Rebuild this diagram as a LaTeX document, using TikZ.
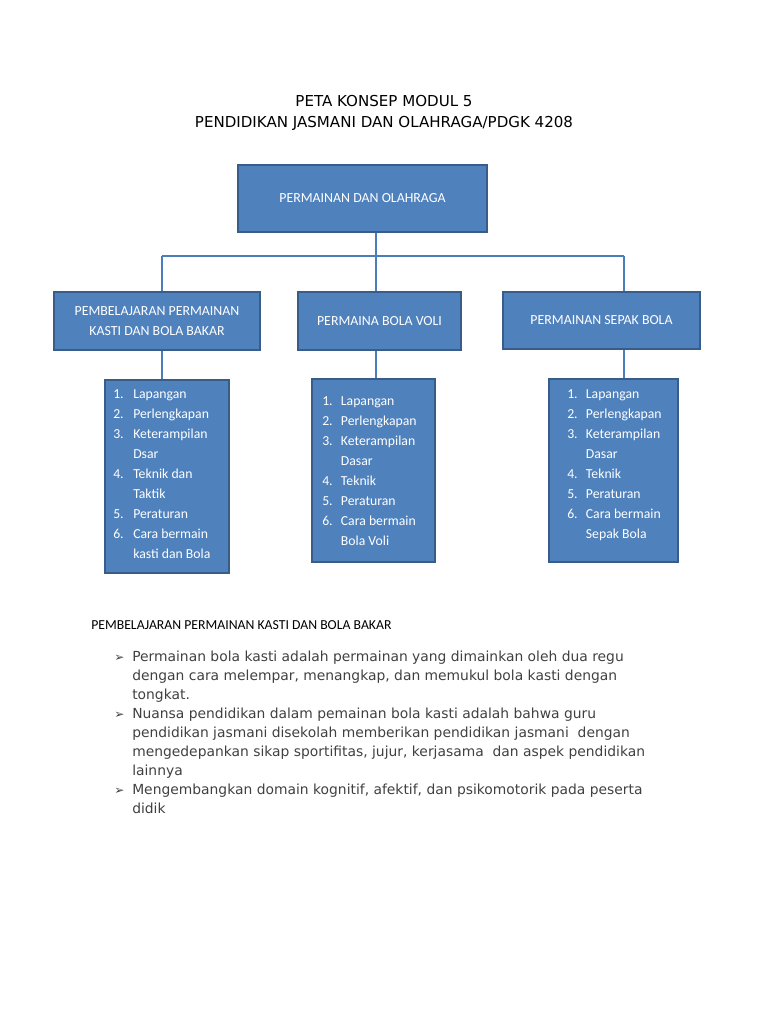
\documentclass[tikz,border=0pt]{standalone}
\usepackage{fontspec}
\setmainfont{DejaVu Sans}
\newfontfamily\carl{Carlito}
\newfontfamily\dejavu{DejaVu Sans}
\definecolor{boxfill}{HTML}{4F81BD}
\definecolor{boxedge}{HTML}{385D8A}
\definecolor{linec}{HTML}{4A7EBB}
\definecolor{bodyc}{HTML}{404040}
\tikzset{
  bluebox/.style={draw=boxedge, fill=boxfill, line width=1.5pt, text=white, inner sep=0pt, align=center,
    font=\carl\fontsize{10.4}{15}\selectfont},
  conn/.style={draw=linec, line width=1.2pt},
  listtxt/.style={text=white, inner sep=0pt, align=left, anchor=north west, font=\carl\fontsize{10.3}{15}\selectfont},
  bodytxt/.style={text=bodyc, inner sep=0pt, align=left, anchor=north west, font=\dejavu\fontsize{10.4}{14.25}\selectfont},
  bul/.style={},
}
\newcommand{\blt}{\makebox[13.5pt][l]{\raisebox{0.3pt}{\fontsize{9}{10}\selectfont ➢}}}
\begin{document}
\begin{tikzpicture}[x=0.75pt,y=-0.75pt]
\useasboundingbox (0,0) rectangle (768,1024);
% title
\node[inner sep=0pt, align=center, font=\dejavu\fontsize{11.3}{15.75}\selectfont] (title) at (384,113)
  {PETA KONSEP MODUL 5\\PENDIDIKAN JASMANI DAN OLAHRAGA/PDGK 4208};
% boxes
\node[bluebox, minimum width=186.75pt, minimum height=50.25pt] (top) at (362.5,198.5) {PERMAINAN DAN OLAHRAGA};
\node[bluebox, minimum width=154.5pt, minimum height=43.5pt] (kasti) at (157,321) {PEMBELAJARAN PERMAINAN\\KASTI DAN BOLA BAKAR};
\node[bluebox, minimum width=122.25pt, minimum height=43.5pt] (voli) at (379.5,321) {PERMAINA BOLA VOLI};
\node[bluebox, minimum width=147.75pt, minimum height=42.75pt] (sepak) at (601.5,320.5) {PERMAINAN SEPAK BOLA};
\node[bluebox, minimum width=93pt, minimum height=144.75pt] (lkasti) at (167,476.5) {};
\node[bluebox, minimum width=92.25pt, minimum height=137.25pt] (lvoli) at (373.5,470.5) {};
\node[bluebox, minimum width=96.75pt, minimum height=137.25pt] (lsepak) at (613.5,470.5) {};
% connectors
\coordinate (busL) at (162,256);
\coordinate (busM) at (376,256);
\coordinate (busR) at (624,256);
\draw[conn] (top.south -| busM) -- (busM);
\draw[conn] (busL) -- (busR);
\draw[conn] (busL) -- (busL |- kasti.north);
\draw[conn] (busM) -- (busM |- voli.north);
\draw[conn] (busR) -- (busR |- sepak.north);
\draw[conn] (kasti.south -| busL) -- (busL |- lkasti.north);
\draw[conn] (voli.south -| busM) -- (busM |- lvoli.north);
\draw[conn] (sepak.south -| busR) -- (busR |- lsepak.north);
% list texts
\node[listtxt] (tkasti) at (113,389) {\makebox[15pt][l]{1.}Lapangan\\\makebox[15pt][l]{2.}Perlengkapan\\\makebox[15pt][l]{3.}Keterampilan\\\hspace*{15pt}Dsar\\\makebox[15pt][l]{4.}Teknik dan\\\hspace*{15pt}Taktik\\\makebox[15pt][l]{5.}Peraturan\\\makebox[15pt][l]{6.}Cara bermain\\\hspace*{15pt}kasti dan Bola};
\node[listtxt] (tvoli) at (322,396) {\makebox[14pt][l]{1.}Lapangan\\\makebox[14pt][l]{2.}Perlengkapan\\\makebox[14pt][l]{3.}Keterampilan\\\hspace*{14pt}Dasar\\\makebox[14pt][l]{4.}Teknik\\\makebox[14pt][l]{5.}Peraturan\\\makebox[14pt][l]{6.}Cara bermain\\\hspace*{14pt}Bola Voli};
\node[listtxt] (tsepak) at (567,389) {\makebox[14pt][l]{1.}Lapangan\\\makebox[14pt][l]{2.}Perlengkapan\\\makebox[14pt][l]{3.}Keterampilan\\\hspace*{14pt}Dasar\\\makebox[14pt][l]{4.}Teknik\\\makebox[14pt][l]{5.}Peraturan\\\makebox[14pt][l]{6.}Cara bermain\\\hspace*{14pt}Sepak Bola};
% lower text
\node[inner sep=0pt, anchor=west, font=\carl\fontsize{10.3}{12}\selectfont] (head) at (91,625) {PEMBELAJARAN PERMAINAN KASTI DAN BOLA BAKAR};
\node[bodytxt] (body) at (114,651) {%
\blt Permainan bola kasti adalah permainan yang dimainkan oleh dua regu\\
\hspace*{13.5pt}dengan cara melempar, menangkap, dan memukul bola kasti dengan\\
\hspace*{13.5pt}tongkat.\\
\blt Nuansa pendidikan dalam pemainan bola kasti adalah bahwa guru\\
\hspace*{13.5pt}pendidikan jasmani disekolah memberikan pendidikan jasmani\ \ dengan\\
\hspace*{13.5pt}mengedepankan sikap sportifitas, jujur, kerjasama\ \ dan aspek pendidikan\\
\hspace*{13.5pt}lainnya\\
\blt Mengembangkan domain kognitif, afektif, dan psikomotorik pada peserta\\
\hspace*{13.5pt}didik};
\end{tikzpicture}
\end{document}
